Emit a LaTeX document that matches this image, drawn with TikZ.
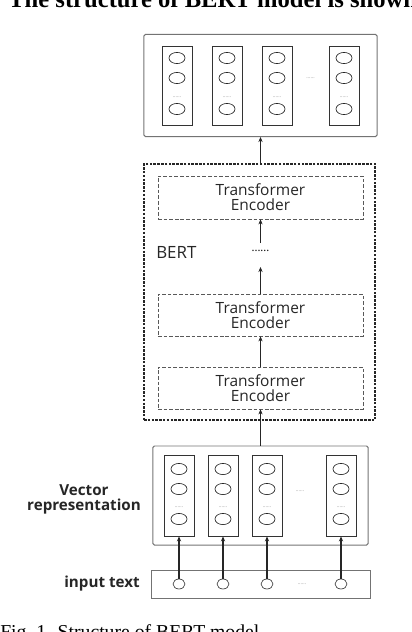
\documentclass[tikz,border=0pt]{standalone}
\usepackage{fontspec}
\setmainfont{Liberation Serif}
\newfontfamily\diagfont{Open Sans}
\usetikzlibrary{positioning,arrows.meta,calc,shapes.geometric}

\begin{document}
\begin{tikzpicture}[x=0.025cm,y=-0.025cm,>={Stealth[length=3.6pt,width=3pt]},
  outbox/.style={draw=black!55,line width=0.7pt,rounded corners=1pt,minimum width=58.25mm},
  colbox/.style={draw=black!80,line width=0.5pt,fill=white,minimum width=7.5mm,inner sep=0pt},
  cell/.style={ellipse,draw=black!85,line width=0.45pt,minimum width=4mm,minimum height=2.8mm,inner sep=0pt},
  incell/.style={ellipse,draw=black!85,line width=0.45pt,minimum width=3mm,minimum height=2.5mm,inner sep=0pt},
  cdots/.style={font=\fontsize{4}{4}\selectfont,text=black!45,inner sep=0pt},
  enc/.style={draw=black!65,dash pattern=on 2.6pt off 1.4pt,line width=0.5pt,minimum width=51.25mm,
    align=center,font=\diagfont\fontsize{11}{10.8}\selectfont,text=black!85,inner sep=0pt},
  lbl/.style={align=center,font=\diagfont\bfseries\fontsize{10.8}{10.6}\selectfont,text=black!85},
  a/.style={->,line width=0.5pt,black!85}]
  \clip (0,0) rectangle (412,632);
  \useasboundingbox (0,0) rectangle (412,632);
  % surrounding page text
  \node[anchor=base west,font=\bfseries\fontsize{17.5}{17.5}\selectfont,inner sep=0pt] (head) at (8,7)
    {The structure of BERT model is shown};
  \node[anchor=base west,font=\fontsize{14}{14}\selectfont,inner sep=0pt] (capt) at (0,638)
    {Fig.~1. Structure of BERT model};
  % output vectors
  \node[outbox,minimum height=25.5mm] (top) at (260.5,85.5) {};
  \foreach \i/\x in {1/177,2/227,3/277,4/344}{
    \node[colbox,minimum height=19.75mm] (cT\i) at (\x,85.5) {};
    \node[cell] (cT\i-1) at (\x,58) {};
    \node[cell] (cT\i-2) at (\x,78) {};
    \node[cdots] (cT\i-d) at (\x,97) {......};
    \node[cell] (cT\i-3) at (\x,109) {};
  }
  \node[cdots] (tdots) at (310.5,78) {......};
  % BERT
  \node[draw=black!85,dash pattern=on 1.8pt off 0.9pt,line width=0.9pt,minimum width=57.75mm,
    minimum height=64mm] (bert) at (259.5,292) {};
  \node[enc,minimum height=10.75mm] (enc3) at (260.5,197.5) {Transformer\\Encoder};
  \node[enc,minimum height=10.5mm] (enc2) at (260.5,315) {Transformer\\Encoder};
  \node[enc,minimum height=10.5mm] (enc1) at (260.5,388) {Transformer\\Encoder};
  \node[anchor=west,font=\diagfont\fontsize{12}{12}\selectfont,text=black!85,inner sep=0pt] (bertlbl) at (156,252) {BERT};
  \node[font=\diagfont\fontsize{8}{8}\selectfont,inner sep=0pt] (edots) at (260.5,251) {......};
  \coordinate (dlo) at (260.5,267);
  \coordinate (dhi) at (260.5,243);
  % vector representation
  \node[outbox,minimum width=53.75mm,minimum height=24.75mm] (vec) at (260.5,495.5) {};
  \node[outbox,minimum width=54.5mm,minimum height=7mm,rounded corners=0pt] (inp) at (261,584) {};
  \foreach \i/\x in {1/179,2/223,3/267,4/341}{
    \node[colbox,minimum height=20.25mm] (cV\i) at (\x,495.5) {};
    \node[cell] (cV\i-1) at (\x,469) {};
    \node[cell] (cV\i-2) at (\x,489) {};
    \node[cdots] (cV\i-d) at (\x,507) {......};
    \node[cell] (cV\i-3) at (\x,519) {};
    \node[incell] (in\i) at (\x,584) {};
    \draw[a,line width=0.9pt] (in\i) -- (cV\i);
  }
  \node[cdots] (vdots) at (300,491) {......};
  \node[cdots] (idots) at (302,584) {......};
  \node[lbl] (veclbl) at (84,499.5) {Vector\\representation};
  \node[lbl] (inlbl) at (102,584) {input text};
  % connectors
  \draw[a] (vec.north) -- (enc1.south);
  \draw[a] (enc1) -- (enc2);
  \draw[a] (enc2) -- (dlo);
  \draw[a] (dhi) -- (enc3);
  \draw[a] (bert.north -| top.south) -- (top.south);
\end{tikzpicture}
\end{document}
